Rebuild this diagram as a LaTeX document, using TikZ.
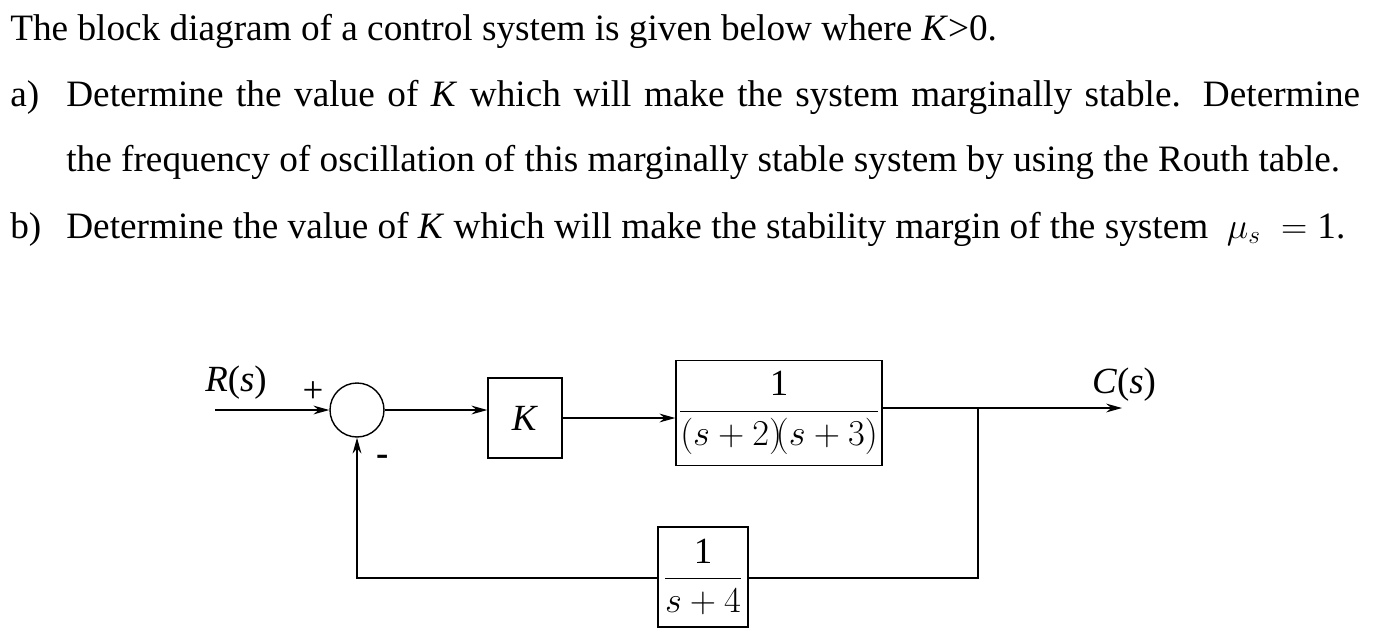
\documentclass[tikz,border=0pt]{standalone}
\usepackage{fontspec}
\setmainfont{Liberation Serif}
\usetikzlibrary{arrows.meta}
\begin{document}
\begin{tikzpicture}[x=0.02cm,y=-0.02cm,
  blk/.style={draw,line width=0.8pt,inner sep=0pt},
  sig/.style={line width=0.8pt},
  arr/.style={sig,-{Stealth[length=9pt,width=5pt]}},
  bf/.style={font=\fontsize{21}{24}\selectfont},
  txt/.style={anchor=base west,inner sep=0pt,font=\fontsize{21.2}{24}\selectfont}]
\useasboundingbox (0,0) rectangle (1385,643);
\node[txt] (t0) at (10,40) {The block diagram of a control system is given below where \textit{K}>0.};
\node[txt] (t1) at (10,106) {a)};
\node[txt] (t1c) at (66,106) {\makebox[25.88cm][s]{Determine the value of \textit{K} which will make the system marginally stable. Determine}};
\node[txt] (t2) at (66,171) {the frequency of oscillation of this marginally stable system by using the Routh table.};
\node[txt] (t3) at (10,238) {b)};
\node[txt] (t3c) at (66,238) {Determine the value of \textit{K} which will make the stability margin of the system ~$\mu_{s}\;=\mathrm{1}$.};
% diagram
\node[draw,circle,line width=0.8pt,minimum size=1.08cm,inner sep=0pt] (sum) at (357,410) {};
\node[blk,minimum width=1.48cm,minimum height=1.6cm,bf] (K) at (525,418) {\textit{K}};
\node[blk,minimum width=4.12cm,minimum height=2.1cm,bf] (G) at (779,413) {$\displaystyle\frac{\mathrm{1}}{\Bigl(s+2\Bigr)\!\Bigl(s+3\Bigr)}$};
\node[blk,minimum width=1.8cm,minimum height=2cm,bf] (H) at (703,577) {$\displaystyle\frac{\mathrm{1}}{s+4}$};
\coordinate (in) at (215,410);
\coordinate (out) at (1122,408);
\coordinate (br) at (978,408);
\coordinate (brd) at (978,578);
\coordinate (fbl) at (357,578);
\node[bf] (R) at (236,383) {\textit{R}(\textit{s})};
\node[bf] (C) at (1124,385) {\textit{C}(\textit{s})};
\node[bf] (plus) at (313,392) {+};
\node[font=\bfseries\fontsize{21}{24}\selectfont] (minus) at (383,460) {-};
\draw[arr] (in) -- (sum);
\draw[arr] (sum.east) -- (K.west|-sum.east);
\draw[arr] (K) -- (G.west|-K);
\draw[arr] (G.east|-out) -- (out);
\draw[sig] (br) -- (brd) -- (H.east|-brd);
\draw[arr] (H.west|-fbl) -- (fbl) -- (sum);
\end{tikzpicture}
\end{document}
